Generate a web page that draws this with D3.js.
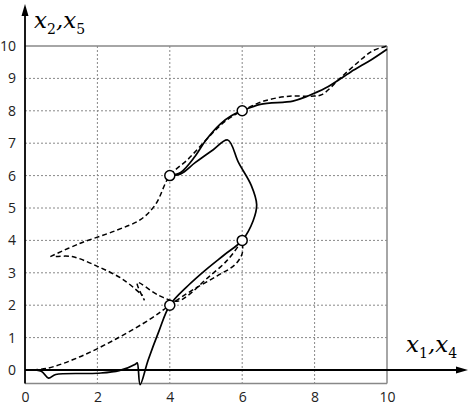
<!DOCTYPE html><html><head><script src="https://d3js.org/d3.v7.min.js"></script>
<style>body{margin:0;background:#fff}</style></head><body><svg id="c" width="474" height="412"></svg>
<script>
const xTicks=[0,2,4,6,8,10];
const yTicks=[0,1,2,3,4,5,6,7,8,9,10];
const solidPath=[[0,0],[0.45,-0.04],[0.65,-0.25],[0.85,-0.14],[2,-0.1],[2.6,-0.02],[3.05,0.18],[3.1,0.22],[3.18,-0.45],[3.4,0.3],[3.7,1.2],[4,2],[4.5,2.6],[5,3.1],[5.5,3.55],[6,4],[6.3,4.6],[6.4,5.1],[6.25,5.7],[5.9,6.4],[5.6,7.1],[5.2,6.8],[4.7,6.4],[4.3,6.05],[4,6],[4.3,6.1],[4.7,6.6],[5,7.1],[5.4,7.6],[5.7,7.85],[6,8],[6.5,8.2],[7.4,8.3],[7.8,8.45],[8.3,8.7],[9,9.2],[9.6,9.6],[10,9.9]];
const dashA=[[0,0],[0.6,0.05],[1.5,0.4],[2.5,0.95],[3.5,1.6],[4,2],[4.6,2.45],[5.3,2.9],[5.8,3.25],[6,3.6],[6,4]];
const dashB=[[6,4],[5.6,3.4],[5,2.8],[4.5,2.3],[4.2,2.12],[3.7,2.3],[3.1,2.7],[3.3,2.15]];
const dashC=[[0.85,3.5],[1.3,3.5],[2,3.2],[2.7,2.8],[3.25,2.3]];
const dashD=[[0.7,3.5],[1.5,3.9],[2.5,4.3],[3.2,4.65],[3.6,5.1],[4,6],[4.5,6.5],[5,7.1],[5.5,7.65],[6,8],[6.6,8.3],[7.3,8.45],[7.9,8.45],[8.2,8.5],[8.7,9.0],[9.2,9.5],[9.6,9.85],[10,10]];
const markers=[[4,2],[6,4],[4,6],[6,8]];
const svg=d3.select("#c");
const x=d3.scaleLinear().domain([0,10]).range([25,387]);
const y=d3.scaleLinear().domain([0,10]).range([370,46]);
const yb=y(-0.42);
const g=svg.append("g");
g.selectAll(".vg").data(xTicks.filter(d=>d>0&&d<10)).join("line").attr("x1",x).attr("x2",x).attr("y1",46).attr("y2",yb).attr("stroke","#888").attr("stroke-dasharray","2,2");
g.selectAll(".hg").data(yTicks.filter(d=>d>0&&d<10)).join("line").attr("y1",y).attr("y2",y).attr("x1",25).attr("x2",x(10)).attr("stroke","#888").attr("stroke-dasharray","2,2");
g.append("line").attr("x1",25).attr("x2",x(10)).attr("y1",46).attr("y2",46).attr("stroke","#888").attr("stroke-width",1.5);
g.append("line").attr("x1",x(10)).attr("x2",x(10)).attr("y1",46).attr("y2",yb).attr("stroke","#888").attr("stroke-width",1.5);
g.append("line").attr("x1",25).attr("x2",x(10)).attr("y1",yb).attr("y2",yb).attr("stroke","#888").attr("stroke-width",1.5);
const xa=d3.axisBottom(x).tickValues(xTicks).tickSize(0).tickPadding(8);
svg.append("g").attr("transform",`translate(0,${yb})`).call(xa).call(s=>s.select(".domain").remove()).selectAll("text").attr("font-family","Open Sans").attr("font-size",14).attr("fill","#222");
const ya=d3.axisLeft(y).tickValues(yTicks).tickSize(0).tickPadding(9);
svg.append("g").attr("transform","translate(25,0)").call(ya).call(s=>s.select(".domain").remove()).selectAll("text").attr("font-family","Open Sans").attr("font-size",14).attr("fill","#222");
svg.append("line").attr("x1",25).attr("x2",25).attr("y1",yb).attr("y2",10).attr("stroke","#000").attr("stroke-width",1.8);
svg.append("path").attr("d","M25,4 L21.5,16 L28.5,16 Z").attr("fill","#000");
svg.append("line").attr("x1",25).attr("x2",462).attr("y1",y(0)).attr("y2",y(0)).attr("stroke","#000").attr("stroke-width",1.8);
svg.append("path").attr("d",`M468,${y(0)} L456,${y(0)-3.5} L456,${y(0)+3.5} Z`).attr("fill","#000");
const lab=(px,py,a,b)=>{const t=svg.append("text").attr("x",px).attr("y",py).attr("font-family","DejaVu Serif").attr("font-style","italic").attr("font-size",23);
t.append("tspan").text("x");t.append("tspan").attr("font-size",14).attr("dy",6).attr("font-style","normal").text(a);
t.append("tspan").attr("dy",-6).text(",x");t.append("tspan").attr("font-size",14).attr("dy",6).attr("font-style","normal").text(b);};
lab(34,28,"2","5");lab(406,352,"1","4");
const line=d3.line().x(d=>x(d[0])).y(d=>y(d[1])).curve(d3.curveCatmullRom.alpha(0.5));
svg.append("path").datum(solidPath).attr("d",line).attr("fill","none").attr("stroke","#000").attr("stroke-width",1.7);
[dashA,dashB,dashC,dashD].forEach(dd=>svg.append("path").datum(dd).attr("d",line).attr("fill","none").attr("stroke","#000").attr("stroke-width",1.5).attr("stroke-dasharray","5,3"));
svg.selectAll(".m").data(markers).join("circle").attr("cx",d=>x(d[0])).attr("cy",d=>y(d[1])).attr("r",5).attr("fill","#fff").attr("stroke","#000").attr("stroke-width",1.5);
</script></body></html>
